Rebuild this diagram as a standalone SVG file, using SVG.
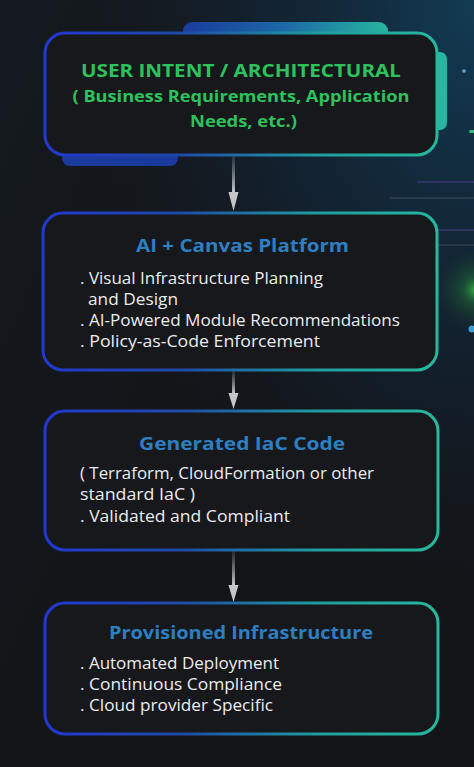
<svg xmlns="http://www.w3.org/2000/svg" width="474" height="767" viewBox="0 0 474 767">
  <defs>
    <linearGradient id="bg" x1="0" y1="0" x2="0.6" y2="0.45">
      <stop offset="0" stop-color="#141a20"/>
      <stop offset="1" stop-color="#131417"/>
    </linearGradient>
    <radialGradient id="bgTR" cx="1" cy="0" r="0.9">
      <stop offset="0" stop-color="#12405a" stop-opacity="0.9"/>
      <stop offset="0.5" stop-color="#12304a" stop-opacity="0.45"/>
      <stop offset="1" stop-color="#131417" stop-opacity="0"/>
    </radialGradient>
    <radialGradient id="glow" cx="0.5" cy="0.5" r="0.5">
      <stop offset="0" stop-color="#3fdc4a" stop-opacity="0.75"/>
      <stop offset="0.3" stop-color="#2a9c3a" stop-opacity="0.35"/>
      <stop offset="1" stop-color="#1a3a20" stop-opacity="0"/>
    </radialGradient>
    <linearGradient id="edge" x1="0" y1="0" x2="1" y2="0">
      <stop offset="0" stop-color="#2238d0"/>
      <stop offset="0.35" stop-color="#1f4aa8"/>
      <stop offset="0.7" stop-color="#1f9ea0"/>
      <stop offset="1" stop-color="#26b89d"/>
    </linearGradient>
    <linearGradient id="tabTop" x1="0" y1="0" x2="1" y2="0">
      <stop offset="0" stop-color="#1b3c9c"/>
      <stop offset="0.5" stop-color="#1c6aa6"/>
      <stop offset="1" stop-color="#27b6a0"/>
    </linearGradient>
    <linearGradient id="shaft" x1="0" y1="0" x2="0" y2="1">
      <stop offset="0" stop-color="#9aa0a6" stop-opacity="0.15"/>
      <stop offset="1" stop-color="#d0d2d4"/>
    </linearGradient>
    <style>
      .box { fill: #16181c; stroke: url(#edge); stroke-width: 3; }
      .green { font-family: "Open Sans", "Liberation Sans", sans-serif; font-weight: 700; fill: #2ec25c; text-anchor: middle; }
      .title { font-family: "Open Sans", "Liberation Sans", sans-serif; font-weight: 700; font-size: 18px; fill: #2d7fc1; text-anchor: middle; }
      .body { font-family: "Open Sans", "Liberation Sans", sans-serif; font-size: 15.5px; fill: #ececec; }
      .head { fill: #c4c6c8; }
    </style>
  </defs>

  <rect width="474" height="767" fill="url(#bg)"/>
  <rect width="474" height="767" fill="url(#bgTR)"/>

  <!-- decorations -->
  <g id="decor">
    <line x1="417" y1="182" x2="474" y2="182" stroke="#6a4aa0" stroke-width="1.2" opacity="0.7"/>
    <line x1="390" y1="198" x2="474" y2="198" stroke="#5a6470" stroke-width="1.2" opacity="0.6"/>
    <line x1="410" y1="230" x2="474" y2="230" stroke="#6a4aa0" stroke-width="1.2" opacity="0.7"/>
    <line x1="437" y1="245" x2="474" y2="245" stroke="#5a6470" stroke-width="1.2" opacity="0.6"/>
    <circle cx="476" cy="290" r="42" fill="url(#glow)"/>
    <circle cx="464" cy="71" r="1.8" fill="#6fa8d8"/>
    <rect x="469" y="130" width="6" height="3" rx="1.5" fill="#2fbf7a"/>
    <circle cx="472" cy="329" r="3.5" fill="#3aa0d8"/>
  </g>

  <!-- connectors -->
  <g id="connectors">
    <rect x="232" y="156" width="3" height="38" fill="url(#shaft)"/>
    <polygon class="head" points="228.5,192 238.5,192 233.5,211"/>
    <rect x="232" y="371" width="3" height="24" fill="url(#shaft)"/>
    <polygon class="head" points="228.5,393 238.5,393 233.5,409"/>
    <rect x="232" y="551" width="3" height="36" fill="url(#shaft)"/>
    <polygon class="head" points="228.5,585 238.5,585 233.5,602"/>
  </g>

  <!-- node 1 -->
  <g id="node-user-intent">
    <rect x="183" y="22" width="205" height="22" rx="9" fill="url(#tabTop)"/>
    <rect x="62" y="144" width="116" height="22" rx="8" fill="#1a3a9e"/>
    <rect x="428" y="52" width="19" height="78" rx="7" fill="#26b7a0"/>
    <rect class="box" x="45" y="33" width="392" height="122" rx="20"/>
    <text class="green" x="241" y="77" font-size="18.5" textLength="320" lengthAdjust="spacingAndGlyphs">USER INTENT / ARCHITECTURAL</text>
    <text class="green" x="241" y="102" font-size="16.5" textLength="337" lengthAdjust="spacingAndGlyphs">( Business Requirements, Application</text>
    <text class="green" x="243.5" y="127" font-size="16.5" textLength="107" lengthAdjust="spacingAndGlyphs">Needs, etc.)</text>
  </g>

  <!-- node 2 -->
  <g id="node-ai-canvas">
    <rect class="box" x="43" y="213" width="394" height="157" rx="20"/>
    <text class="title" x="242.5" y="252" textLength="213" lengthAdjust="spacingAndGlyphs">AI + Canvas Platform</text>
    <text class="body" x="80" y="284" textLength="243" lengthAdjust="spacingAndGlyphs">. Visual Infrastructure Planning</text>
    <text class="body" x="88" y="305" textLength="90" lengthAdjust="spacingAndGlyphs">and Design</text>
    <text class="body" x="80" y="326" textLength="320" lengthAdjust="spacingAndGlyphs">. AI-Powered Module Recommendations</text>
    <text class="body" x="80" y="347" textLength="240" lengthAdjust="spacingAndGlyphs">. Policy-as-Code Enforcement</text>
  </g>

  <!-- node 3 -->
  <g id="node-iac">
    <rect class="box" x="45" y="411" width="393" height="139" rx="20"/>
    <text class="title" x="242" y="450" textLength="206" lengthAdjust="spacingAndGlyphs">Generated IaC Code</text>
    <text class="body" x="80" y="479" textLength="294" lengthAdjust="spacingAndGlyphs">( Terraform, CloudFormation or other</text>
    <text class="body" x="80" y="500" textLength="115" lengthAdjust="spacingAndGlyphs">standard IaC )</text>
    <text class="body" x="80" y="522" textLength="210" lengthAdjust="spacingAndGlyphs">. Validated and Compliant</text>
  </g>

  <!-- node 4 -->
  <g id="node-provisioned">
    <rect class="box" x="45" y="603" width="393" height="131" rx="20"/>
    <text class="title" x="241" y="639" textLength="264" lengthAdjust="spacingAndGlyphs">Provisioned Infrastructure</text>
    <text class="body" x="80" y="669" textLength="199" lengthAdjust="spacingAndGlyphs">. Automated Deployment</text>
    <text class="body" x="80" y="690" textLength="202" lengthAdjust="spacingAndGlyphs">. Continuous Compliance</text>
    <text class="body" x="80" y="711" textLength="193" lengthAdjust="spacingAndGlyphs">. Cloud provider Specific</text>
  </g>
</svg>
